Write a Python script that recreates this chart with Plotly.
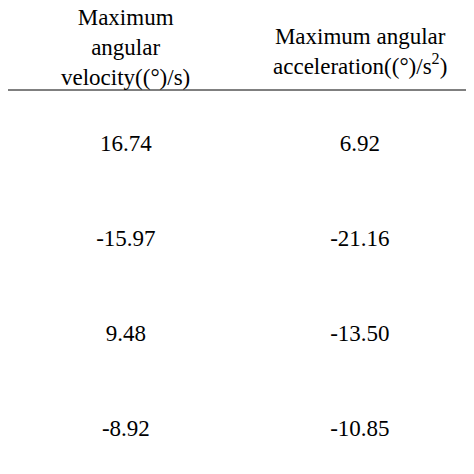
import plotly.graph_objects as go

headers = ["Maximum<br>angular<br>velocity((°)/s)", "Maximum angular<br>acceleration((°)/s<sup>2</sup>)"]
velocity = ["16.74", "-15.97", "9.48", "-8.92"]
acceleration = ["6.92", "-21.16", "-13.50", "-10.85"]

font = dict(family="Liberation Serif", size=23, color="black")
rows = list(range(len(velocity)))

fig = go.Figure()
fig.add_trace(go.Scatter(x=[0]*len(velocity), y=rows, text=velocity, mode="text", textfont=font, hoverinfo="skip"))
fig.add_trace(go.Scatter(x=[1]*len(acceleration), y=rows, text=acceleration, mode="text", textfont=font, hoverinfo="skip"))

fig.add_annotation(x=0, y=1 - 40/474, xref="x", yref="paper", text=headers[0], showarrow=False, font=font, yanchor="middle")
fig.add_annotation(x=1, y=1 - 43/474, xref="x", yref="paper", text=headers[1], showarrow=False, font=font, yanchor="middle")
fig.add_shape(type="line", xref="paper", yref="paper", x0=-0.02, x1=1.02, y0=1 - 82/474, y1=1 - 82/474, line=dict(color="black", width=1))

fig.update_layout(
    width=474, height=474, margin=dict(l=0, r=0, t=0, b=0),
    paper_bgcolor="white", plot_bgcolor="white", showlegend=False,
    xaxis=dict(range=[-0.504, 1.522], visible=False, fixedrange=True),
    yaxis=dict(range=[3.55, -1.45], visible=False, fixedrange=True),
)
fig.write_html("out.html", config={"displayModeBar": False})
